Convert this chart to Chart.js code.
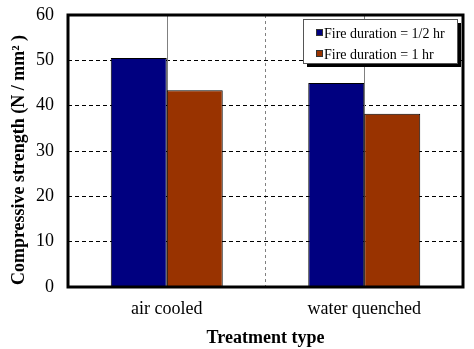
<!DOCTYPE html>
<html>
<head>
<meta charset="utf-8">
<script src="https://cdn.jsdelivr.net/npm/chart.js@4"></script>
<style>
  html, body { margin: 0; padding: 0; background: #fff; }
  #wrap { width: 474px; height: 349px; }
</style>
</head>
<body>
<div id="wrap"><canvas id="strength-chart" width="474" height="349"></canvas></div>
<script>
// Chart data
var categories = ['air cooled', 'water quenched'];
var halfHour = [50.5, 45.0];
var oneHour = [43.4, 38.2];
var yTicks = [0, 10, 20, 30, 40, 50, 60];

var serif = "'Liberation Serif', 'Times New Roman', serif";

// solid grey lines at category centres, drawn behind the bars
var centreLines = {
    id: 'centreLines',
    beforeDatasetsDraw: function (chart) {
        var ctx = chart.ctx, area = chart.chartArea, x = chart.scales.x;
        ctx.save();
        ctx.strokeStyle = '#808080';
        ctx.lineWidth = 1;
        categories.forEach(function (c, i) {
            var px = Math.round(x.getPixelForValue(i)) + 0.5;
            ctx.beginPath();
            ctx.moveTo(px, area.top);
            ctx.lineTo(px, area.bottom);
            ctx.stroke();
        });
        ctx.restore();
    }
};

// thick frame round the plot and the boxed legend with its shadow
var frameAndLegend = {
    id: 'frameAndLegend',
    afterDatasetsDraw: function (chart) {
        var ctx = chart.ctx, a = chart.chartArea;
        ctx.save();
        ctx.strokeStyle = '#000';
        ctx.lineWidth = 3;
        ctx.strokeRect(a.left, a.top, a.right - a.left, a.bottom - a.top);

        var bx = a.right - 160, by = a.top + 4, bw = 154, bh = 44;
        ctx.fillStyle = '#000';
        ctx.fillRect(bx + 4, by + 4, bw, bh);
        ctx.fillStyle = '#fff';
        ctx.fillRect(bx, by, bw, bh);
        ctx.lineWidth = 1;
        ctx.strokeStyle = '#555';
        ctx.strokeRect(bx + 0.5, by + 0.5, bw, bh);

        ctx.font = '14px ' + serif;
        ctx.textBaseline = 'middle';
        chart.data.datasets.forEach(function (ds, i) {
            var cy = by + 14 + i * 21;
            ctx.fillStyle = ds.backgroundColor;
            ctx.fillRect(bx + 13, cy - 4, 7, 7);
            ctx.strokeStyle = '#333';
            ctx.strokeRect(bx + 13.5, cy - 3.5, 6, 6);
            ctx.fillStyle = '#000';
            ctx.fillText(ds.label, bx + 21, cy + 1);
        });
        ctx.restore();
    }
};

new Chart(document.getElementById('strength-chart'), {
    type: 'bar',
    data: {
        labels: categories,
        datasets: [{
            label: 'Fire duration = 1/2 hr',
            data: halfHour,
            backgroundColor: '#000080',
            borderColor: '#000',
            borderWidth: 1,
            categoryPercentage: 0.567,
            barPercentage: 1
        }, {
            label: 'Fire duration = 1 hr',
            data: oneHour,
            backgroundColor: '#993300',
            borderColor: '#000',
            borderWidth: 1,
            categoryPercentage: 0.567,
            barPercentage: 1
        }]
    },
    options: {
        responsive: false,
        animation: false,
        layout: { padding: { left: 0, right: 11, top: 15, bottom: 0 } },
        plugins: {
            legend: { display: false },
            tooltip: { enabled: false }
        },
        scales: {
            x: {
                grid: {
                    offset: true,
                    color: '#808080',
                    lineWidth: 1,
                    drawTicks: false
                },
                border: { display: false, dash: [3, 3] },
                ticks: {
                    color: '#000',
                    font: { family: serif, size: 18 },
                    padding: 11
                },
                title: {
                    display: true,
                    text: 'Treatment type',
                    color: '#000',
                    font: { family: serif, size: 18, weight: 'bold' },
                    padding: { top: 3, bottom: 0 }
                },
                afterFit: function (scale) { scale.height = 62; }
            },
            y: {
                min: 0,
                max: 60,
                afterBuildTicks: function (scale) {
                    scale.ticks = yTicks.map(function (v) { return { value: v }; });
                },
                grid: {
                    color: '#000',
                    lineWidth: 1,
                    drawTicks: true,
                    tickLength: 14,
                    tickColor: 'rgba(0,0,0,0)'
                },
                border: { display: false, dash: [4, 3] },
                ticks: {
                    color: '#000',
                    font: { family: serif, size: 18 },
                    padding: 0
                },
                title: {
                    display: true,
                    text: 'Compressive strength (N / mm\u00B2 )\u2002\u2002',
                    color: '#000',
                    font: { family: serif, size: 18, weight: 'bold' },
                    padding: { top: 9, bottom: 4 }
                },
                afterFit: function (scale) { scale.width = 68; }
            }
        }
    },
    plugins: [centreLines, frameAndLegend]
});
</script>
</body>
</html>
